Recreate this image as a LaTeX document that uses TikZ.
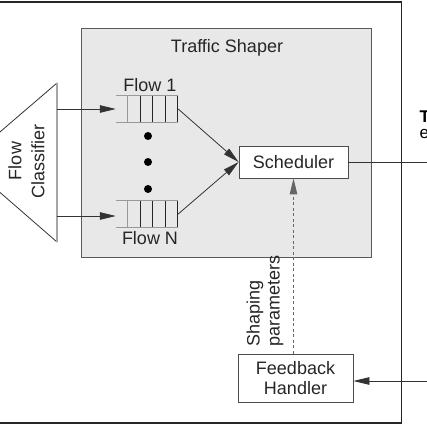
\documentclass[tikz,border=0pt]{standalone}
\usepackage{fontspec}
\setmainfont{Liberation Sans}
\usetikzlibrary{arrows.meta}
\begin{document}
\begin{tikzpicture}[x=1pt,y=-1pt,
  lbl/.style={font=\fontsize{18}{21}\selectfont, text=black!85, inner sep=0pt},
  conn/.style={draw=black!80, line width=0.8pt},
  tip/.style={-{Triangle[length=16pt,width=7.5pt]}},
  box/.style={draw=black!70, fill=white, line width=0.8pt, inner sep=0pt},
  qslot/.style={inner sep=0pt, minimum width=62pt, minimum height=26pt},
  qgray/.style={draw=black!40, line width=1pt},
  qdark/.style={draw=black!85, line width=1.2pt},
  dot/.style={circle, fill=black, inner sep=0pt, minimum size=8pt},
]
\useasboundingbox (0,0) rectangle (427,427);
\clip (0,0) rectangle (427,427);
\fill[white] (0,0) rectangle (427,427);
% outer box
\draw[black!85, line width=1.8pt] (-30,2) rectangle (401.5,423);
% traffic shaper
\draw[fill=black!9, draw=black!65, line width=1pt] (81,29) rectangle (371.5,257.5);
\node[lbl] (ts) at (227,48) {Traffic Shaper};
% flow classifier
\draw[black!80, line width=0.8pt, fill=white] (57,83) -- (-35,162) -- (57,242);
\draw[black!35, line width=1.3pt] (57,83) -- (57,242);
\node[lbl, rotate=90, align=center, font=\fontsize{18}{23}\selectfont] (fc) at (26.5,161) {Flow\\Classifier};
% queues
\node[qslot] (q1) at (147,109) {};
\node[qslot] (qN) at (147,214) {};
\foreach \q in {q1,qN}{
  \draw[qgray] (\q.north west) -- (\q.north east);
  \draw[qgray] (\q.south west) -- (\q.south east);
  \draw[qgray] ([xshift=12pt]\q.north west) -- ([xshift=12pt]\q.south west);
  \foreach \dx in {25,37,50,62}
    \draw[qdark] ([xshift=\dx pt]\q.north west) -- ([xshift=\dx pt]\q.south west);
}
\node[lbl] (f1) at (150,85) {Flow 1};
\node[lbl] (fN) at (150,238) {Flow N};
\node[dot] (d1) at (148,136) {};
\node[dot] (d2) at (148,162) {};
\node[dot] (d3) at (148,189) {};
% scheduler and feedback handler
\node[box, lbl, minimum width=109pt, minimum height=32pt] (sch) at (293.5,162) {Scheduler};
\node[box, lbl, minimum width=115pt, minimum height=48pt, align=center, font=\fontsize{18}{19.5}\selectfont] (fb) at (295.5,378) {Feedback\\Handler};
% connectors
\coordinate (c1) at (57,109);
\coordinate (cN) at (57,216);
\draw[conn, tip] (c1) -- (c1 -| q1.west);
\draw[conn, tip] (cN) -- (cN -| qN.west);
\draw[conn, tip] (q1.east) -- (sch.west);
\draw[conn, tip] (qN.east) -- (sch.west);
\coordinate (out) at (432,162);
\draw[conn] (sch.east) -- (out);
\coordinate (fin) at (432,381);
\draw[conn, tip] (fin) -- (fin -| fb.east);
\draw[draw=black!60, line width=0.8pt, dash pattern=on 3pt off 2.5pt, tip] (sch.south |- fb.north) -- (sch.south);
\node[lbl, rotate=90, anchor=west, align=left, font=\fontsize{18}{20}\selectfont] (sp) at (265,347) {Shaping\\parameters};
% text cut off at the right edge, as in the reference
\node[anchor=west, inner sep=0pt, font=\fontsize{17}{18}\selectfont\bfseries] (tt) at (419.5,117) {T};
\node[anchor=west, inner sep=0pt, font=\fontsize{17}{18}\selectfont] (te) at (419.5,134) {e};
\end{tikzpicture}
\end{document}
